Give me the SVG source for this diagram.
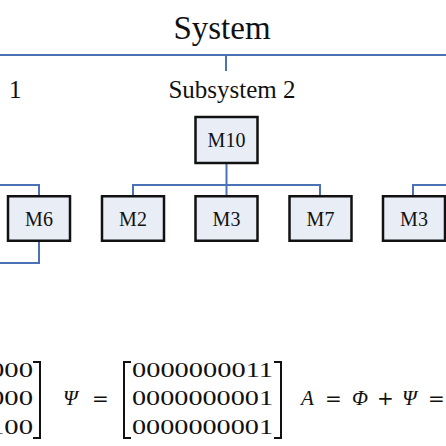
<svg xmlns="http://www.w3.org/2000/svg" width="446" height="446" viewBox="0 0 446 446">
<style>
.node rect{fill:#e8edf6;stroke:#111;stroke-width:2.5}
.node text{font-family:"Liberation Serif",serif;font-size:20px;text-anchor:middle;fill:#111}
.title{font-family:"Liberation Serif",serif;fill:#111}
.conn path{fill:none;stroke:#4a72b5;stroke-width:2}
.bus{fill:none;stroke:#5b95c9;stroke-width:3}
.mx{font-family:"Liberation Serif",serif;font-size:22px;fill:#111}
.mi{font-family:"Liberation Serif",serif;font-size:21px;font-style:italic;fill:#111}
.op{font-family:"DejaVu Sans",sans-serif;font-size:20px;fill:#111}
.br{fill:none;stroke:#111;stroke-width:2}
</style>
<rect width="446" height="446" fill="#fff"/>
<text class="title" x="222" y="39" font-size="33" text-anchor="middle">System</text>
<text class="title" x="232" y="98" font-size="25" text-anchor="middle">Subsystem 2</text>
<text class="title" x="9" y="98" font-size="25">1</text>
<g class="conn">
<path class="bus" d="M0 55H446M226 55V71"/>
<path d="M226.5 163V195M133 195V185H320V195"/>
<path d="M0 185H39V195M39 242V263H0"/>
<path d="M413 195V185H446"/>
</g>
<g id="M10" class="node"><rect x="195.5" y="117" width="62" height="46"/><text x="226.5" y="147">M10</text></g>
<g id="M6" class="node"><rect x="8" y="196.25" width="62" height="44.5"/><text x="39" y="226">M6</text></g>
<g id="M2" class="node"><rect x="102" y="196.25" width="62" height="44.5"/><text x="133" y="226">M2</text></g>
<g id="M3" class="node"><rect x="195.5" y="196.25" width="62" height="44.5"/><text x="226.5" y="226">M3</text></g>
<g id="M7" class="node"><rect x="289.5" y="196.25" width="62" height="44.5"/><text x="320.5" y="226">M7</text></g>
<g id="M3b" class="node"><rect x="383" y="196.25" width="62" height="44.5"/><text x="414" y="226">M3</text></g>
<g id="matrices">
<text class="mx" x="-10" y="377" textLength="43" lengthAdjust="spacingAndGlyphs">000</text>
<text class="mx" x="-10" y="405" textLength="43" lengthAdjust="spacingAndGlyphs">000</text>
<text class="mx" x="-10" y="434" textLength="43" lengthAdjust="spacingAndGlyphs">100</text>
<path class="br" d="M33 362H40V438H33"/>
<text class="mi" x="63" y="405">Ψ</text>
<text class="op" x="92" y="405">=</text>
<path class="br" d="M131 362H124V438H131"/>
<text class="mx" x="132" y="377" textLength="141" lengthAdjust="spacingAndGlyphs">0000000011</text>
<text class="mx" x="132" y="405" textLength="141" lengthAdjust="spacingAndGlyphs">0000000001</text>
<text class="mx" x="132" y="434" textLength="141" lengthAdjust="spacingAndGlyphs">0000000001</text>
<path class="br" d="M274 362H281V438H274"/>
<text class="mi" x="301" y="405">A</text>
<text class="op" x="325" y="405">=</text>
<text class="mi" x="352" y="405">Φ</text>
<text class="op" x="377" y="405">+</text>
<text class="mi" x="402" y="405">Ψ</text>
<text class="op" x="428" y="405">=</text>
</g>
</svg>
